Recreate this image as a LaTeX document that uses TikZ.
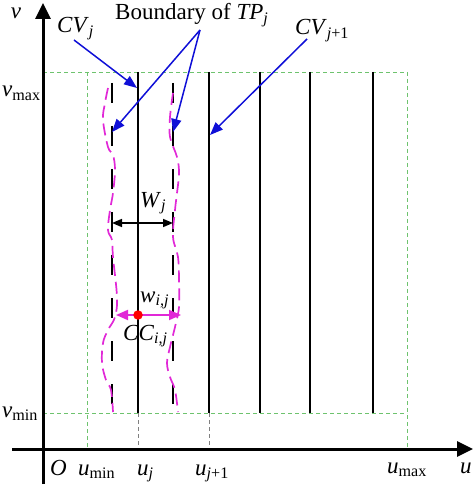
\documentclass[tikz,border=0pt]{standalone}
\usepackage{fontspec}
\setmainfont{Liberation Serif}
\usetikzlibrary{arrows.meta}
\newcommand{\lo}[1]{\textsubscript{#1}}
\definecolor{gridgreen}{RGB}{110,195,110}
\definecolor{arrblue}{RGB}{15,15,215}
\definecolor{bmag}{RGB}{225,40,215}
\begin{document}
\begin{tikzpicture}[x=1pt,y=-1pt,
  every node/.style={font=\fontsize{23}{27}\selectfont, inner sep=0pt},
  axisline/.style={line width=3pt,-{Triangle[length=16pt,width=15pt]}},
  gridline/.style={gridgreen,line width=0.9pt,dash pattern=on 4pt off 3pt},
  tickline/.style={gray,line width=0.8pt,dash pattern=on 4pt off 3pt},
  cvline/.style={black,line width=1.6pt},
  tpline/.style={black,line width=2.2pt,dash pattern=on 20pt off 23pt},
  tpcurve/.style={bmag,line width=1.7pt,dash pattern=on 12pt off 6pt},
  bluearrow/.style={arrblue,line width=1.5pt,-{Triangle[length=13pt,width=10pt]}},
  widtharrow/.style={black,line width=1.5pt,{Triangle[length=10pt,width=8pt]}-{Triangle[length=10pt,width=8pt]}},
  magarrow/.style={bmag,line width=1.8pt,{Triangle[length=12pt,width=10pt]}-{Triangle[length=12pt,width=10pt]}}
]
\useasboundingbox (0,0) rectangle (474,486);
% grid (green dashed)
\coordinate (tl) at (43,72);
\coordinate (tr) at (407,72);
\coordinate (bl) at (43,413);
\coordinate (br) at (407,413);
\coordinate (uminT) at (87,72);
\coordinate (uminB) at (87,449);
\coordinate (umaxB) at (407,449);
\draw[gridline] (tl) -- (tr);
\draw[gridline] (bl) -- (br);
\draw[gridline] (uminT) -- (uminB);
\draw[gridline] (tr) -- (umaxB);
% tick dashes
\coordinate (ujB) at (138,413);
\coordinate (ujX) at (138,449);
\coordinate (uj1B) at (209,413);
\coordinate (uj1X) at (209,449);
\draw[tickline] (ujB) -- (ujX);
\draw[tickline] (uj1B) -- (uj1X);
% CV lines
\foreach \x/\n in {138/a,209/b,260/c,310/d,373/e}{
  \coordinate (cv\n T) at (\x,72);
  \coordinate (cv\n B) at (\x,413);
  \draw[cvline] (cv\n T) -- (cv\n B);
}
% TP boundary dashed lines
\coordinate (tpaT) at (112,83);
\coordinate (tpaB) at (112,413);
\coordinate (tpbT) at (173,83);
\coordinate (tpbB) at (173,413);
\draw[tpline] (tpaT) -- (tpaB);
\draw[tpline] (tpbT) -- (tpbB);
% magenta wavy boundaries
\draw[tpcurve] plot[smooth,tension=0.6] coordinates {(108,88) (105,103) (103,120) (108,147) (113,155) (115,170) (113,193) (110,210) (108,230) (112,240) (113,257) (117,297) (115,317) (108,330) (103,343) (102,363) (106,380) (111,390) (113,412)};
\draw[tpcurve] plot[smooth,tension=0.6] coordinates {(173,93) (170,117) (170,137) (177,157) (179,173) (177,193) (175,210) (173,237) (178,257) (179,280) (179,307) (175,327) (170,347) (167,363) (170,377) (175,390) (178,412)};
% W_j arrow
\coordinate (wjL) at (112,223);
\coordinate (wjR) at (173,223);
\draw[widtharrow] (wjL) -- (wjR);
\node[anchor=base west] (wj) at (140,207) {\textit{W}\lo{\textit{j}}};
% w_ij arrow and CC
\coordinate (wijL) at (116,315);
\coordinate (wijR) at (181,315);
\draw[magarrow] (wijL) -- (wijR);
\node[circle,fill=red,minimum size=9.5pt] (cc) at (138,315) {};
\node[anchor=base west] (wij) at (140,302) {\textit{w}\lo{\textit{i,j}}};
\node[anchor=base west] (ccl) at (123,340) {\textit{CC}\lo{\textit{i,j}}};
% axes
\coordinate (xs) at (12,449);
\coordinate (xe) at (473,449);
\coordinate (ys) at (43,484);
\coordinate (ye) at (43,3);
\draw[axisline] (xs) -- (xe);
\draw[axisline] (ys) -- (ye);
% axis labels
\node (vlab) at (16,13) {\textit{v}};
\node[anchor=base west] (vmax) at (2,97) {\textit{v}\lo{max}};
\node[anchor=base west] (vmin) at (2,417) {\textit{v}\lo{min}};
\node[anchor=base west] (olab) at (50,475) {\textit{O}};
\node[anchor=base west] (umin) at (78,475) {\textit{u}\lo{min}};
\node[anchor=base west] (ujl) at (137,475) {\textit{u}\lo{\textit{j}}};
\node[anchor=base west] (uj1l) at (195,475) {\textit{u}\lo{\textit{j}+1}};
\node[anchor=base west] (umax) at (387,473) {\textit{u}\lo{max}};
\node[anchor=base west] (ulab) at (460,473) {\textit{u}};
% callouts
\node[anchor=base west] (cvj) at (57,33) {\textit{CV}\lo{\textit{j}}};
\node[anchor=base west] (bnd) at (115,20) {Boundary of \textit{TP}\lo{\textit{j}}};
\node[anchor=base west] (cvj1) at (295,35) {\textit{CV}\lo{\textit{j}+1}};
\coordinate (cvjS) at (74,40);
\coordinate (cvjT) at (137,88);
\coordinate (bndS) at (200,30);
\coordinate (bndT1) at (112,132);
\coordinate (bndT2) at (173,132);
\coordinate (cvj1S) at (307,39);
\coordinate (cvj1T) at (210,135);
\draw[bluearrow] (cvjS) -- (cvjT);
\draw[bluearrow] (bndS) -- (bndT1);
\draw[bluearrow] (bndS) -- (bndT2);
\draw[bluearrow] (cvj1S) -- (cvj1T);
\end{tikzpicture}
\end{document}
